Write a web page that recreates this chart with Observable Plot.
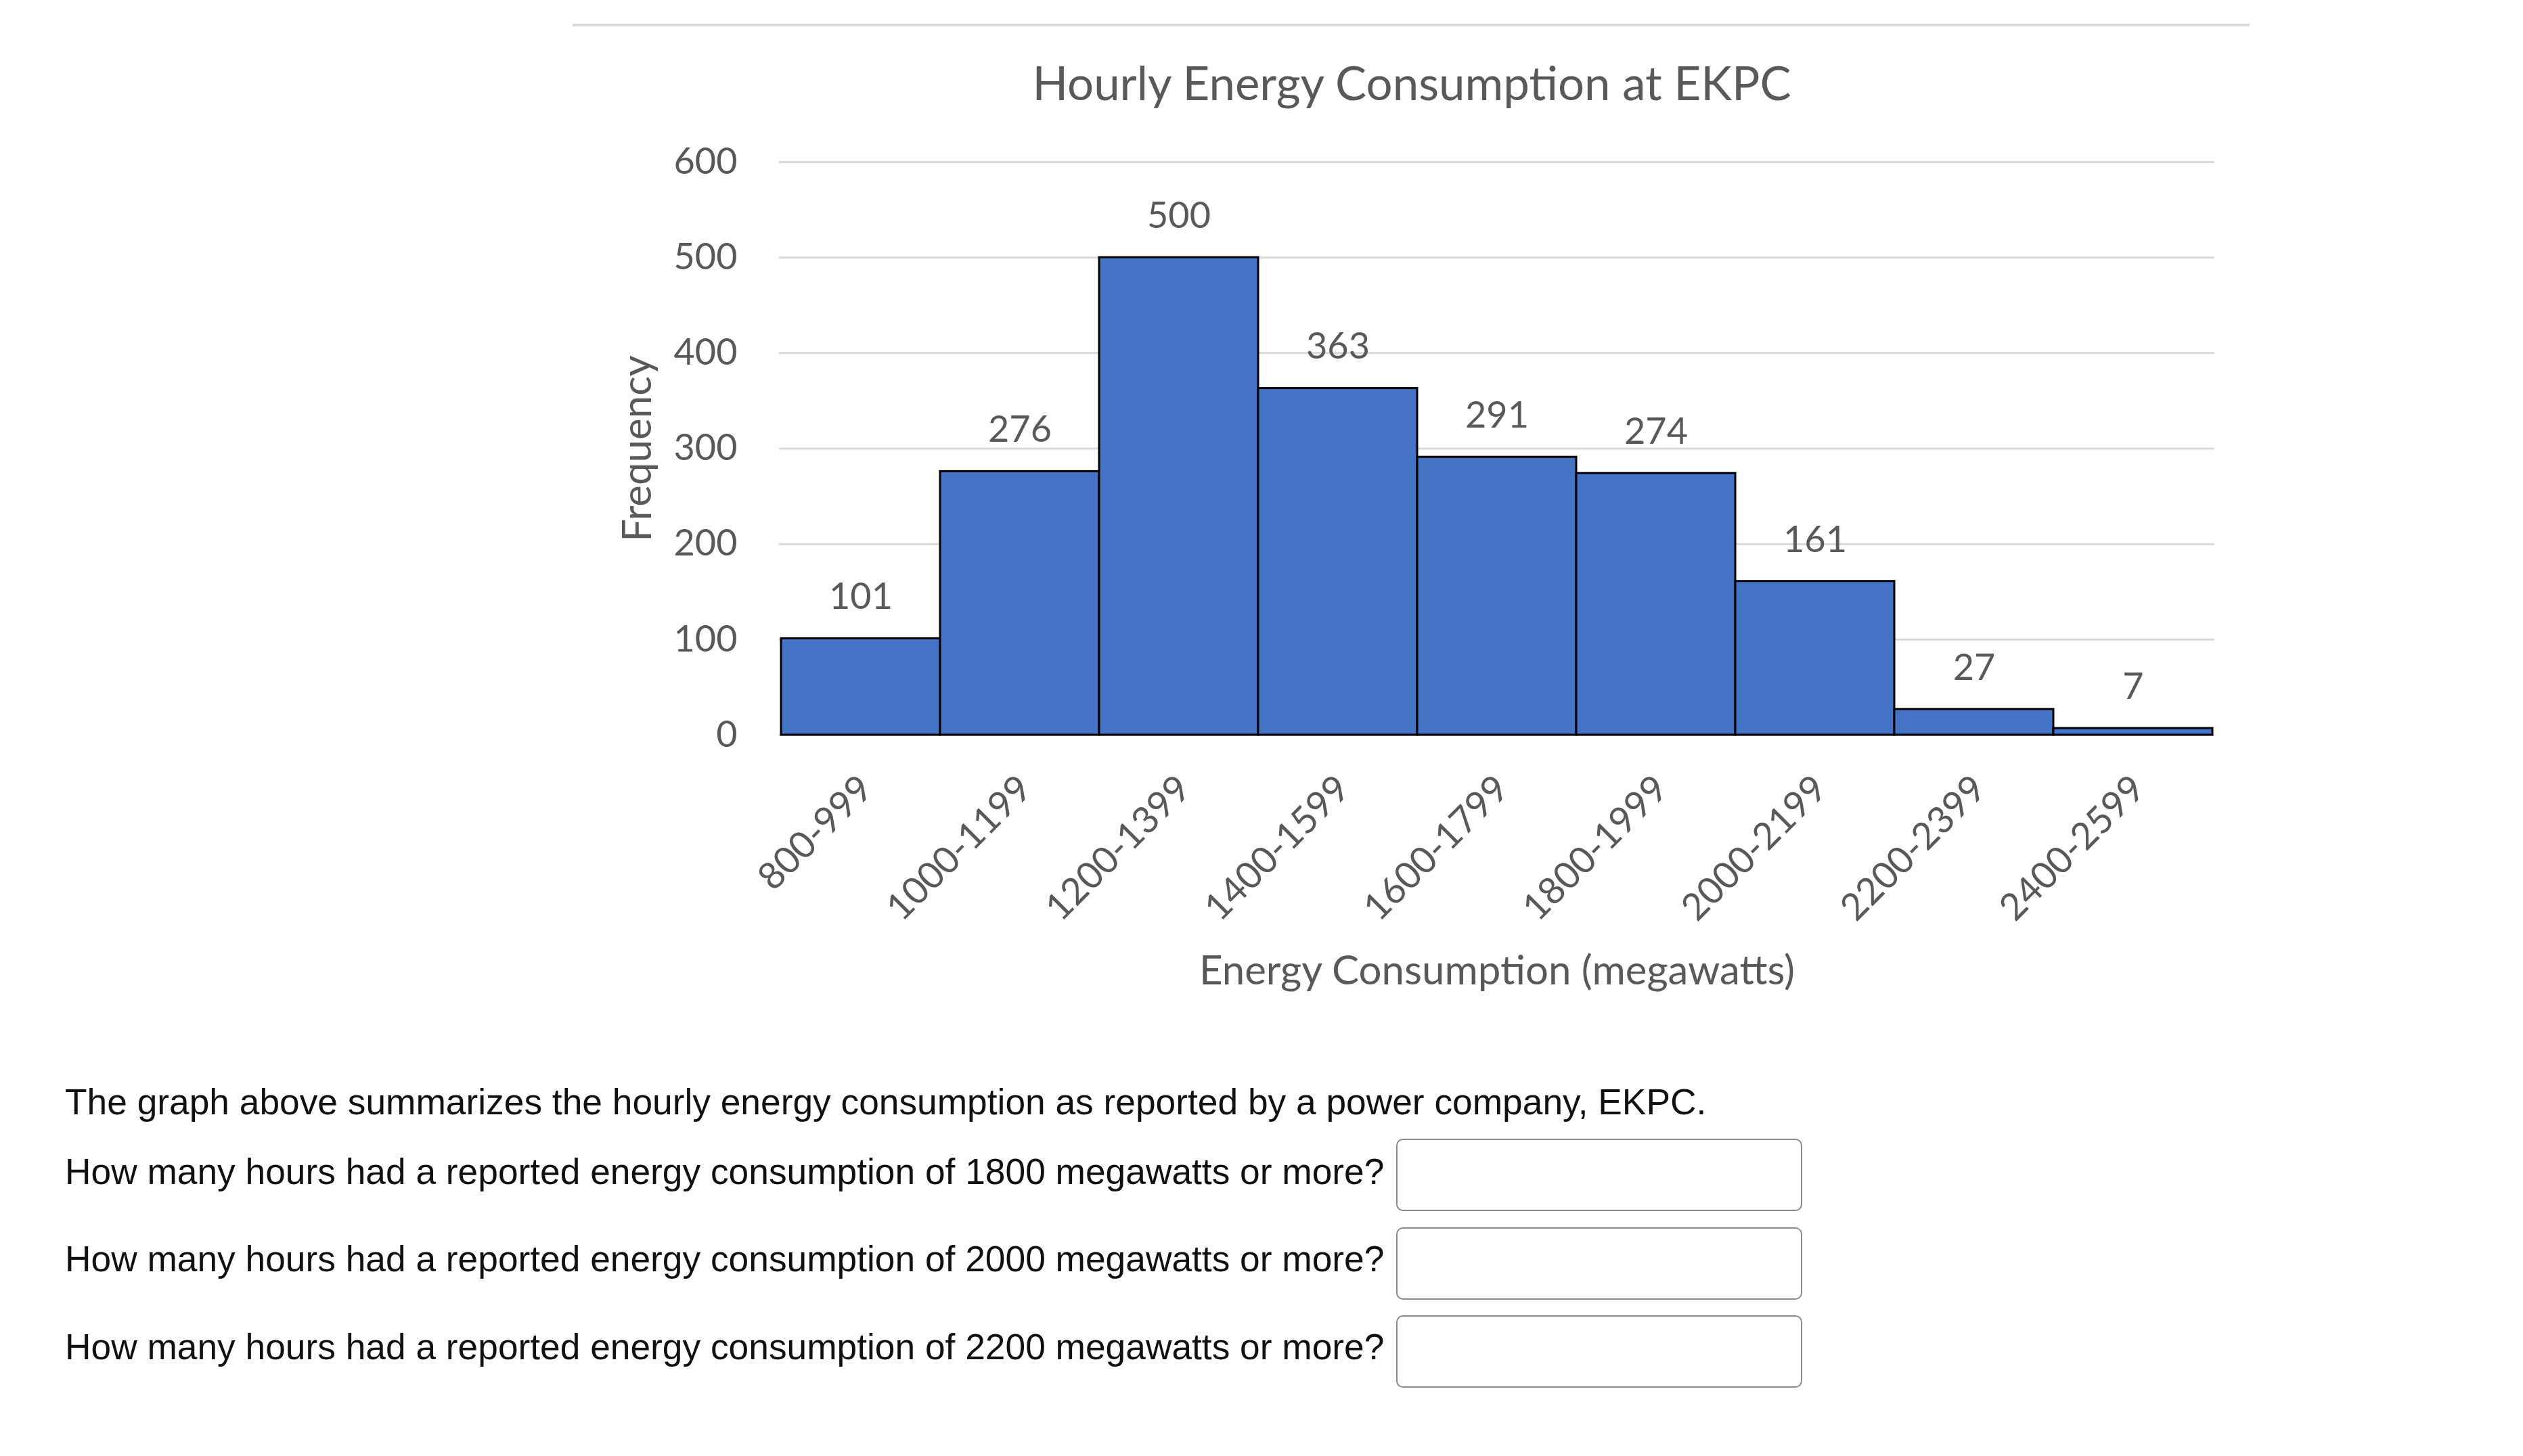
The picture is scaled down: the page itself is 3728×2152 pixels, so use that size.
<!DOCTYPE html>
<html>
<head>
<meta charset="utf-8">
<script src="https://cdn.jsdelivr.net/npm/d3@7"></script>
<script src="https://cdn.jsdelivr.net/npm/@observablehq/plot@0.6"></script>
<style>
  html, body { margin: 0; padding: 0; background: #fff; }
  body { width: 3728px; height: 2152px; position: relative; overflow: hidden; }
  #rule { position: absolute; left: 846px; top: 35px; width: 2478px; height: 4px; background: #d9d9d9; }
  #title { position: absolute; left: 846px; width: 2480px; top: 82px; height: 80px; line-height: 80px;
           text-align: center; font-family: Lato, sans-serif; font-size: 69px; color: #595959; }
  #chart { position: absolute; left: 0; top: 166px; }
  .q { position: absolute; left: 96px; font-family: "Liberation Sans", Arial, sans-serif; font-size: 53.3px; color: #111; line-height: 60px; }
  .box { position: absolute; left: 2063px; width: 596px; height: 103px; border: 2px solid #8a8a8a; border-radius: 10px; background: #fff; }
</style>
</head>
<body>
<div id="rule"></div>
<div id="title">Hourly Energy Consumption at EKPC</div>
<div id="chart"></div>
<div class="q" style="top:1599px">The graph above summarizes the hourly energy consumption as reported by a power company, EKPC.</div>
<div class="q" style="top:1702px">How many hours had a reported energy consumption of 1800 megawatts or more?</div>
<div class="box" style="top:1683px"></div>
<div class="q" style="top:1831px">How many hours had a reported energy consumption of 2000 megawatts or more?</div>
<div class="box" style="top:1814px"></div>
<div class="q" style="top:1961px">How many hours had a reported energy consumption of 2200 megawatts or more?</div>
<div class="box" style="top:1944px"></div>
<script>
const categories = ["800-999", "1000-1199", "1200-1399", "1400-1599", "1600-1799", "1800-1999", "2000-2199", "2200-2399", "2400-2599"];
const frequencies = [101, 276, 500, 363, 291, 274, 161, 27, 7];
const yTicks = [0, 100, 200, 300, 400, 500, 600];
const xTitle = "Energy Consumption (megawatts)";
const yTitle = "Frequency";

const data = categories.map((c, i) => ({bin: c, count: frequencies[i]}));

const chart = Plot.plot({
  width: 3728,
  height: 1334,
  marginLeft: 1151,
  marginRight: 456,
  marginTop: 73,
  marginBottom: 414,
  style: {fontFamily: "Lato, sans-serif", background: "transparent", overflow: "visible"},
  x: {domain: categories, padding: 0, label: null},
  y: {domain: [0, 600], label: null},
  marks: [
    Plot.gridY(yTicks, {stroke: "#d9d9d9", strokeOpacity: 1, strokeWidth: 3}),
    Plot.barY(data, {x: "bin", y: "count", fill: "#4472C4", stroke: "#000", strokeWidth: 3}),
    Plot.text(data, {x: "bin", y: "count", text: d => String(d.count), dy: -61, fontSize: 54, fill: "#595959"}),
    Plot.axisY(yTicks, {tickSize: 0, tickPadding: 62, fontSize: 54, color: "#595959", label: null}),
    Plot.axisY({ticks: [], fontSize: 60, color: "#595959",
      label: yTitle, labelAnchor: "center", labelArrow: "none", labelOffset: 232}),
    Plot.axisX({tickSize: 0, tickRotate: -45, textAnchor: "end", lineAnchor: "middle", tickPadding: 70, dx: 8,
      fontSize: 55, color: "#595959", label: null}),
    Plot.axisX({ticks: [], fontSize: 60, color: "#595959",
      label: xTitle, labelAnchor: "center", labelArrow: "none", labelOffset: 368})
  ]
});
document.getElementById("chart").appendChild(chart);
</script>
</body>
</html>
